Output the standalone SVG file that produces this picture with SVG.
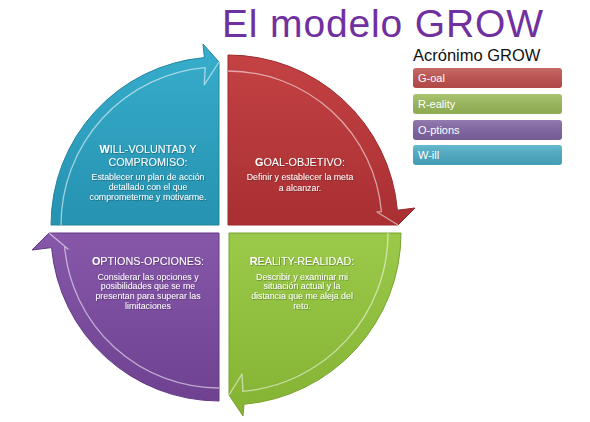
<svg xmlns="http://www.w3.org/2000/svg" width="590" height="422" viewBox="0 0 590 422">
<defs>
<linearGradient id="gW" x1="0" y1="0" x2="0" y2="1"><stop offset="0" stop-color="#38adcc"/><stop offset="1" stop-color="#2592b0"/></linearGradient>
<linearGradient id="gG" x1="0" y1="0" x2="0" y2="1"><stop offset="0" stop-color="#c44244"/><stop offset="1" stop-color="#a92f32"/></linearGradient>
<linearGradient id="gR" x1="0" y1="0" x2="0" y2="1"><stop offset="0" stop-color="#9bca4b"/><stop offset="1" stop-color="#84b334"/></linearGradient>
<linearGradient id="gO" x1="0" y1="0" x2="0" y2="1"><stop offset="0" stop-color="#8758a9"/><stop offset="1" stop-color="#6e4191"/></linearGradient>
<linearGradient id="lb" x1="0" y1="0" x2="0" y2="1"><stop offset="0" stop-color="#fff" stop-opacity="0.15"/><stop offset="1" stop-color="#000" stop-opacity="0.08"/></linearGradient>
<filter id="ts" x="-10%" y="-30%" width="120%" height="160%"><feDropShadow dx="0.6" dy="0.8" stdDeviation="0.6" flood-color="#000" flood-opacity="0.35"/></filter>
</defs>
<style>
.hl{fill:none;stroke:#ffffff;stroke-opacity:0.55;stroke-width:1.3;stroke-linejoin:round}
.edge{stroke-width:1}
.h{font-family:"Liberation Sans",Arial,sans-serif;font-size:10.8px;fill:#ffffff;text-anchor:middle}
.b{font-family:"Liberation Sans",Arial,sans-serif;font-size:8.8px;fill:#ffffff;text-anchor:middle}
.lt{font-family:"Liberation Sans",Arial,sans-serif;font-size:11px;fill:#ffffff}
.txt{filter:url(#ts)}
</style>
<rect width="590" height="422" fill="#ffffff"/>
<text id="title" x="222" y="37" font-family="'Liberation Sans',Arial,sans-serif" font-size="39" fill="#7030a0" textLength="321" lengthAdjust="spacing">El modelo GROW</text>
<g id="legend">
<text x="413" y="61" font-family="'Liberation Sans',Arial,sans-serif" font-size="16.5" fill="#111111">Acrónimo GROW</text>
<g id="leg-G"><rect x="413" y="68" width="149" height="20" rx="3" fill="#c0504d"/><rect x="413" y="68" width="149" height="20" rx="3" fill="url(#lb)"/><text class="lt" x="418" y="82">G-oal</text></g>
<g id="leg-R"><rect x="413" y="94" width="149" height="20" rx="3" fill="#9bbb59"/><rect x="413" y="94" width="149" height="20" rx="3" fill="url(#lb)"/><text class="lt" x="418" y="108">R-eality</text></g>
<g id="leg-O"><rect x="413" y="120" width="149" height="20" rx="3" fill="#8064a2"/><rect x="413" y="120" width="149" height="20" rx="3" fill="url(#lb)"/><text class="lt" x="418" y="134">O-ptions</text></g>
<g id="leg-W"><rect x="413" y="145" width="149" height="20" rx="3" fill="#4bacc6"/><rect x="413" y="145" width="149" height="20" rx="3" fill="url(#lb)"/><text class="lt" x="418" y="159">W-ill</text></g>
</g>
<g id="node-W">
<path d="M219,225 L51,225 A168,168 0 0 1 204.4,57.6 L203,44 L219,62 Z" fill="url(#gW)" stroke="#23859f" class="edge"/>
<path class="hl" d="M61,225 A158,158 0 0 1 205.2,67.6 L204.3,84.8 L219,62"/>
<g class="txt">
<text class="h" x="148" y="153"><tspan font-weight="bold">W</tspan>ILL-VOLUNTAD Y</text>
<text class="h" x="148" y="166">COMPROMISO:</text>
<text class="b" x="148" y="180">Establecer un plan de acción</text>
<text class="b" x="148" y="189.8">detallado con el que</text>
<text class="b" x="148" y="199.6">comprometerme y motivarme.</text>
</g>
</g>
<g id="node-G">
<path d="M228,225 L228,55 A170,170 0 0 1 397.4,210.2 L415,208 L398,225 Z" fill="url(#gG)" stroke="#9a2a2d" class="edge"/>
<path class="hl" d="M228,71 A154,154 0 0 1 381.4,211.6 L377,212 L398,225"/>
<g class="txt">
<text class="h" x="300" y="166"><tspan font-weight="bold">G</tspan>OAL-OBJETIVO:</text>
<text class="b" x="300" y="180" font-size="9.6">Definir y establecer la meta</text>
<text class="b" x="300" y="190.5" font-size="9.6">a alcanzar.</text>
</g>
</g>
<g id="node-R">
<path d="M229,233 L401,233 A172,172 0 0 1 244,404.3 L243,416 L229,395 Z" fill="url(#gR)" stroke="#78a32d" class="edge"/>
<path class="hl" d="M388,233 A159,159 0 0 1 242.9,391.4 L242,374 L229,395"/>
<g class="txt">
<text class="h" x="302" y="265"><tspan font-weight="bold">R</tspan>EALITY-REALIDAD:</text>
<text class="b" x="302" y="279.5">Describir y examinar mi</text>
<text class="b" x="302" y="289.3">situación actual y la</text>
<text class="b" x="302" y="299.1">distancia que me aleja del</text>
<text class="b" x="302" y="308.9">reto.</text>
</g>
</g>
<g id="node-O">
<path d="M219,233 L219,401 A168,168 0 0 1 51.6,247.6 L32,250 L49,233 Z" fill="url(#gO)" stroke="#633985" class="edge"/>
<path class="hl" d="M219,388 A155,155 0 0 1 64.6,246.5 L68,249 L49,233"/>
<g class="txt">
<text class="h" x="148" y="265"><tspan font-weight="bold">O</tspan>PTIONS-OPCIONES:</text>
<text class="b" x="148" y="279.5">Considerar las opciones y</text>
<text class="b" x="148" y="289.3">posibilidades que se me</text>
<text class="b" x="148" y="299.1">presentan para superar las</text>
<text class="b" x="148" y="308.9">limitaciones</text>
</g>
</g>
</svg>
